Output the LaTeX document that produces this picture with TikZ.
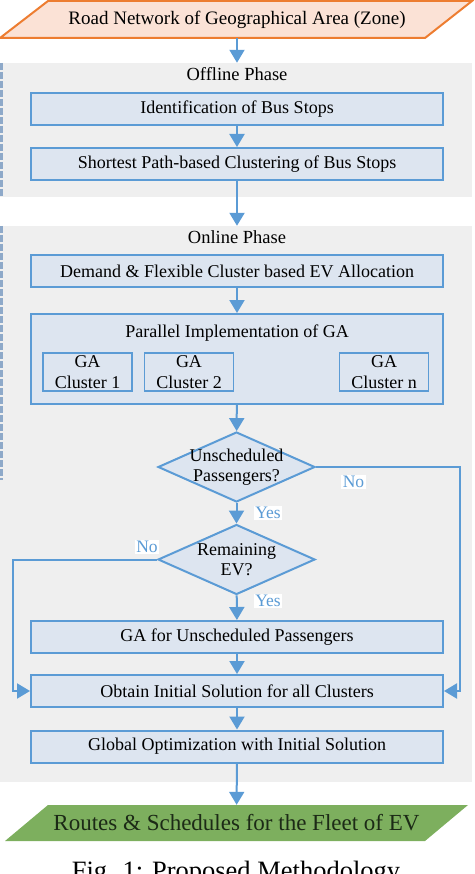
\documentclass[tikz,border=0pt]{standalone}
\usepackage{fontspec}
\setmainfont{Liberation Serif}
\usetikzlibrary{shapes.geometric,arrows.meta}
\definecolor{bblue}{HTML}{5B9BD5}
\definecolor{bfill}{HTML}{DDE5F0}
\definecolor{gbg}{HTML}{EFEFEF}
\definecolor{oline}{HTML}{ED7D31}
\definecolor{ofill}{HTML}{FBE2D6}
\definecolor{gfill}{HTML}{7DAF5E}
\definecolor{dashc}{HTML}{8EA9C9}
\definecolor{gtext}{HTML}{1C2A16}
\tikzset{
  txt/.style={font=\fontsize{18}{21}\selectfont},
  dtxt/.style={font=\fontsize{18}{20.5}\selectfont},
  procbox/.style={draw=bblue, fill=bfill, line width=2pt, minimum width=412pt, minimum height=32pt, inner sep=0pt, txt},
  clbox/.style={draw=bblue, fill=bfill, line width=1.6pt, minimum width=89pt, minimum height=38pt, inner sep=0pt, align=center, txt},
  decbox/.style={diamond, draw=bblue, fill=bfill, line width=2pt, minimum width=157pt, minimum height=70pt, inner sep=0pt},
  phasebg/.style={fill=gbg, inner sep=0pt},
  conn/.style={draw=bblue, line width=2pt, -{Triangle[width=15pt,length=13pt]}},
  yn/.style={text=bblue, fill=white, inner sep=1.5pt, font=\fontsize{17.5}{20}\selectfont},
  phaselbl/.style={font=\fontsize{18.5}{22}\selectfont},
  sidedash/.style={draw=dashc, line width=3pt, dash pattern=on 7pt off 2pt}
}
\begin{document}
\begin{tikzpicture}[x=1pt,y=-1pt]
\useasboundingbox (0,0) rectangle (474,874);
\clip (0,0) rectangle (474,874);

% phase backgrounds
\node[phasebg, minimum width=472pt, minimum height=134pt] (offline) at (236,130) {};
\node[phasebg, minimum width=472pt, minimum height=556pt] (online) at (236,504) {};
\draw[sidedash] (1.5,63) -- (1.5,197);
\draw[sidedash] (1.5,226) -- (1.5,480);

% top input parallelogram
\draw[draw=oline, fill=ofill, line width=2pt] (0,38) -- (48,1) -- (472,1) -- (425,38) -- cycle;
\node[minimum width=377pt, minimum height=37pt, inner sep=0pt, font=\fontsize{19}{22}\selectfont] (road) at (237,19.5) {Road Network of Geographical Area (Zone)};

% offline phase
\node[phaselbl] (offlbl) at (237,74) {Offline Phase};
\node[procbox] (ident) at (237,109.5) {Identification of Bus Stops};
\node[procbox] (short) at (237,164) {Shortest Path-based Clustering of Bus Stops};

% online phase
\node[phaselbl] (onlbl) at (237,237) {Online Phase};
\node[procbox] (demand) at (237,271) {Demand \& Flexible Cluster based EV Allocation};
\node[procbox, minimum height=90pt] (parallel) at (237,359) {};
\node[txt] (parlbl) at (237,333) {Parallel Implementation of GA};
\node[clbox] (c1) at (87.5,372) {GA\\Cluster 1};
\node[clbox] (c2) at (189,372) {GA\\Cluster 2};
\node[clbox] (cn) at (384,372) {GA\\Cluster n};

\node[decbox, label={[dtxt, align=center]center:Unscheduled\\Passengers?}] (d1) at (236.5,467) {};
\node[decbox, label={[dtxt, align=center]center:Remaining\\EV?}] (d2) at (236.5,559.5) {};

\node[procbox] (gaun) at (237,637) {GA for Unscheduled Passengers};
\node[procbox] (obtain) at (237,691) {Obtain Initial Solution for all Clusters};
\node[procbox] (global) at (237,746.5) {Global Optimization with Initial Solution};

% output parallelogram
\fill[gfill] (5,841) -- (48,805) -- (468,805) -- (425,841) -- cycle;
\node[minimum width=377pt, minimum height=36pt, inner sep=0pt, font=\fontsize{23}{26}\selectfont, text=gtext] (routes) at (236.5,823) {Routes \& Schedules for the Fleet of EV};

% caption (cut off at the bottom, as in the source figure)
\node[font=\fontsize{26.5}{30}\selectfont, anchor=north, inner sep=0pt] (cap) at (236,861) {Fig. 1: Proposed Methodology};

% connectors
\path[conn] (road) -- (offline.north -| road.south);
\path[conn] (ident) -- (short);
\path[conn] (short) -- (online.north -| short.south);
\path[conn] (demand) -- (parallel);
\path[conn] (parallel) -- (d1);
\path[conn] (d1) -- (d2);
\path[conn] (d2) -- (gaun);
\path[conn] (gaun) -- (obtain);
\path[conn] (obtain) -- (global);
\path[conn] (global) -- (routes);

\coordinate (rturn) at (460,467);
\coordinate (lturn) at (13,559.5);
\path[conn] (d1.east) -- (rturn) |- (obtain.east);
\path[conn] (d2.west) -- (lturn) |- (obtain.west);

\node[yn] (yes1) at (268,513) {Yes};
\node[yn] (yes2) at (268,601) {Yes};
\node[yn] (no1) at (353.5,482) {No};
\node[yn] (no2) at (147,547) {No};
\end{tikzpicture}
\end{document}
